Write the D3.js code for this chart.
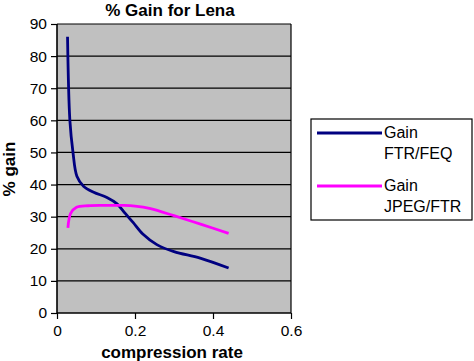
<!DOCTYPE html>
<head>
  <meta charset="utf-8">
  <script src="https://d3js.org/d3.v7.min.js"></script>
  <style>
    body { margin:0; background:#fff; }
    svg { display:block; font-family: Arial, "Liberation Sans", sans-serif; }
  </style>
</head>

<body>
  <script>
    // values
    var rateFeq = [0.027, 0.033, 0.041, 0.051, 0.068, 0.094, 0.128, 0.154, 0.175, 0.195, 0.22, 0.256, 0.3, 0.367, 0.44],
        gainFeq = [86, 60, 50, 42.6, 39.5, 37.6, 36, 34, 31, 28.2, 24.6, 21.3, 19.1, 17.1, 14];
    var rateJpeg = [0.028, 0.035, 0.05, 0.08, 0.12, 0.17, 0.2, 0.24, 0.3, 0.37, 0.44],
        gainJpeg = [26.5, 31, 32.9, 33.4, 33.5, 33.5, 33.3, 32.5, 30.3, 27.6, 24.8];
    var xTicks = [0, 0.2, 0.4, 0.6],
        yTicks = [0, 10, 20, 30, 40, 50, 60, 70, 80, 90];
    var seriesNames = [["Gain", "FTR/FEQ"], ["Gain", "JPEG/FTR"]],
        seriesColors = ["#000080", "#ff00ff"];

    var W = 474, H = 361,
        plot = {left: 57, right: 291, top: 24, bottom: 313};

    var svg = d3.select("body").append("svg")
        .attr("width", W).attr("height", H);

    var x = d3.scaleLinear().domain([0, 0.6]).range([plot.left, plot.right]),
        y = d3.scaleLinear().domain([0, 90]).range([plot.bottom, plot.top]);

    // plot background
    svg.append("rect")
        .attr("x", plot.left).attr("y", plot.top)
        .attr("width", plot.right - plot.left).attr("height", plot.bottom - plot.top)
        .attr("fill", "#c0c0c0");

    // gridlines
    svg.append("g").selectAll("line").data(yTicks.slice(1))
      .enter().append("line")
        .attr("x1", plot.left).attr("x2", plot.right)
        .attr("y1", function(d){ return y(d); })
        .attr("y2", function(d){ return y(d); })
        .attr("stroke", "#000").attr("stroke-width", 1.2);

    // right border
    svg.append("line")
        .attr("x1", plot.right).attr("x2", plot.right)
        .attr("y1", plot.top).attr("y2", plot.bottom)
        .attr("stroke", "#000").attr("stroke-width", 1.2);

    var yAxis = svg.append("g")
        .attr("transform", "translate(" + plot.left + ",0)")
        .call(d3.axisLeft(y).tickValues(yTicks).tickSize(6).tickPadding(4).tickFormat(d3.format("d")));

    var xAxis = svg.append("g")
        .attr("transform", "translate(0," + plot.bottom + ")")
        .call(d3.axisBottom(x).tickValues(xTicks).tickSize(6).tickPadding(6)
          .tickFormat(function(d){ return d === 0 ? "0" : d3.format(".1f")(d); }));

    [xAxis, yAxis].forEach(function(a){
      a.select(".domain").attr("stroke", "#000").attr("stroke-width", 1.6);
      a.selectAll(".tick line").attr("stroke", "#000").attr("stroke-width", 1.2);
      a.selectAll("text").attr("font-size", 15.5).attr("fill", "#000")
        .attr("font-family", "Arial, 'Liberation Sans', sans-serif");
    });
    xAxis.select(".domain").attr("d", "M" + plot.left + ",0H" + plot.right);
    yAxis.select(".domain").attr("d", "M0," + plot.bottom + "V" + plot.top);

    var line = d3.line()
        .x(function(d){ return x(d[0]); })
        .y(function(d){ return y(d[1]); })
        .curve(d3.curveCatmullRom.alpha(0.5));

    var series = [d3.zip(rateFeq, gainFeq), d3.zip(rateJpeg, gainJpeg)];

    svg.append("g").selectAll("path").data(series)
      .enter().append("path")
        .attr("d", line)
        .attr("fill", "none")
        .attr("stroke", function(d, i){ return seriesColors[i]; })
        .attr("stroke-width", 2.8)
        .attr("stroke-linejoin", "round");

    // titles
    svg.append("text")
        .attr("x", 170).attr("y", 16)
        .attr("text-anchor", "middle")
        .attr("font-size", 17).attr("font-weight", "bold")
        .text("% Gain for Lena");

    svg.append("text")
        .attr("x", 172).attr("y", 358)
        .attr("text-anchor", "middle")
        .attr("font-size", 17).attr("font-weight", "bold")
        .text("compression rate");

    svg.append("text")
        .attr("transform", "translate(15,169) rotate(-90)")
        .attr("text-anchor", "middle")
        .attr("font-size", 17).attr("font-weight", "bold")
        .text("% gain");

    // legend
    var legend = svg.append("g");
    legend.append("rect")
        .attr("x", 311).attr("y", 119)
        .attr("width", 161).attr("height", 101)
        .attr("fill", "#fff").attr("stroke", "#000").attr("stroke-width", 1.2);

    var item = legend.selectAll("g.item").data(seriesNames)
      .enter().append("g")
        .attr("class", "item")
        .attr("transform", function(d, i){ return "translate(0," + (133 + i * 53) + ")"; });

    item.append("line")
        .attr("x1", 317).attr("x2", 382)
        .attr("stroke", function(d, i){ return seriesColors[i]; })
        .attr("stroke-width", 2.8);

    item.selectAll("text").data(function(d){ return d; })
      .enter().append("text")
        .attr("x", 384)
        .attr("y", function(d, j){ return 5 + j * 21; })
        .attr("font-size", 16)
        .text(function(d){ return d; });
  </script>
</body>

</html>
